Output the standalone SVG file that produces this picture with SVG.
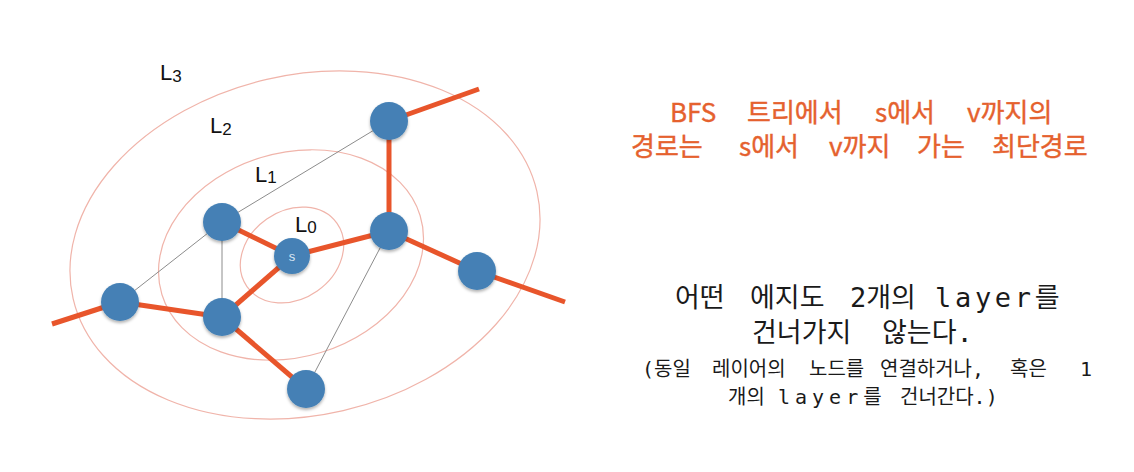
<svg xmlns="http://www.w3.org/2000/svg" width="1134" height="472" viewBox="0 0 1134 472">
<defs>
<filter id="sh" x="-30%" y="-30%" width="160%" height="170%">
<feDropShadow dx="0" dy="2" stdDeviation="1.5" flood-color="#000" flood-opacity="0.3"/>
</filter>
</defs>
<style>
.ring{fill:none;stroke:#f0b4aa;stroke-width:1.2}
.tree{stroke:#e8552b;stroke-width:5;fill:none}
.cross{stroke:#8c8c8c;stroke-width:1;fill:none}
.node{fill:#4480b5;filter:url(#sh)}
.lab{font-family:"Liberation Sans",Arial,sans-serif;font-size:22px;fill:#111}
.sub{font-size:17px}
.or{font-family:"Noto Sans CJK KR","Noto Sans",sans-serif;font-size:26px;fill:#e5612e;stroke:#e5612e;stroke-width:0.4}
.bk{font-family:"DejaVu Sans Mono","Noto Sans CJK KR",monospace;fill:#1a1a1a}
.big{font-size:27px}
.small{font-size:20px}
</style>
<rect width="1134" height="472" fill="#fff"/>
<g id="layers">
<ellipse class="ring" cx="305" cy="245" rx="238" ry="170" transform="rotate(-13 305 245)"/>
<ellipse class="ring" cx="291" cy="255" rx="135" ry="102" transform="rotate(-17 291 255)"/>
<ellipse class="ring" cx="292" cy="255" rx="55" ry="44" transform="rotate(-35 292 255)"/>
</g>
<g id="layer-labels">
<text class="lab" x="160" y="80">L<tspan class="sub" dy="2">3</tspan></text>
<text class="lab" x="210" y="133">L<tspan class="sub" dy="2">2</tspan></text>
<text class="lab" x="255" y="182">L<tspan class="sub" dy="1">1</tspan></text>
<text class="lab" x="295" y="232">L<tspan class="sub" dy="1">0</tspan></text>
</g>
<g id="connectors">
<line class="cross" x1="222" y1="222" x2="389" y2="121"/>
<line class="cross" x1="222" y1="222" x2="120" y2="302"/>
<line class="cross" x1="222" y1="222" x2="222" y2="317"/>
<line class="cross" x1="389" y1="231" x2="306" y2="389"/>
<line class="tree" x1="222" y1="222" x2="292" y2="256"/>
<line class="tree" x1="292" y1="256" x2="389" y2="231"/>
<line class="tree" x1="292" y1="256" x2="222" y2="317"/>
<line class="tree" x1="222" y1="317" x2="120" y2="302"/>
<line class="tree" x1="222" y1="317" x2="306" y2="389"/>
<line class="tree" x1="389" y1="231" x2="389" y2="121"/>
<line class="tree" x1="389" y1="231" x2="477" y2="271"/>
<line class="tree" x1="389" y1="121" x2="479" y2="89"/>
<line class="tree" x1="477" y1="271" x2="565" y2="302"/>
<line class="tree" x1="120" y1="302" x2="52" y2="324"/>
</g>
<g id="node-s"><circle class="node" cx="292" cy="256" r="18"/><text x="292" y="261" text-anchor="middle" font-family="Liberation Sans, Arial, sans-serif" font-size="13" fill="#d8e6f3">s</text></g>
<g id="node-a"><circle class="node" cx="222" cy="222" r="19"/></g>
<g id="node-b"><circle class="node" cx="222" cy="317" r="19"/></g>
<g id="node-c"><circle class="node" cx="389" cy="231" r="19"/></g>
<g id="node-d"><circle class="node" cx="389" cy="121" r="19"/></g>
<g id="node-e"><circle class="node" cx="477" cy="271" r="19"/></g>
<g id="node-f"><circle class="node" cx="120" cy="302" r="19"/></g>
<g id="node-g"><circle class="node" cx="306" cy="389" r="19"/></g>
<g id="caption-orange">
<text class="or" y="122"><tspan x="670">BFS </tspan><tspan x="747">트리에서 </tspan><tspan x="875">s에서 </tspan><tspan x="967">v까지의</tspan></text>
<text class="or" y="156"><tspan x="631">경로는 </tspan><tspan x="739">s에서 </tspan><tspan x="829">v까지 </tspan><tspan x="917">가는 </tspan><tspan x="992">최단경로</tspan></text>
</g>
<g id="caption-black">
<text class="bk big" y="307"><tspan x="675">어떤 </tspan><tspan x="750">에지도 </tspan><tspan x="850">2개의 </tspan><tspan x="935" letter-spacing="3.7">layer</tspan><tspan>를</tspan></text>
<text class="bk big" y="342"><tspan x="752">건너가지 </tspan><tspan x="882">않는다.</tspan></text>
<text class="bk small" y="376"><tspan x="642">(동일 </tspan><tspan x="712">레이어의 </tspan><tspan x="809">노드를 </tspan><tspan x="880">연결하거나, </tspan><tspan x="1010">혹은 </tspan><tspan x="1080">1</tspan></text>
<text class="bk small" y="404"><tspan x="728">개의 </tspan><tspan x="778" letter-spacing="5">layer</tspan><tspan>를 </tspan><tspan x="900">건너간다.)</tspan></text>
</g>
</svg>
